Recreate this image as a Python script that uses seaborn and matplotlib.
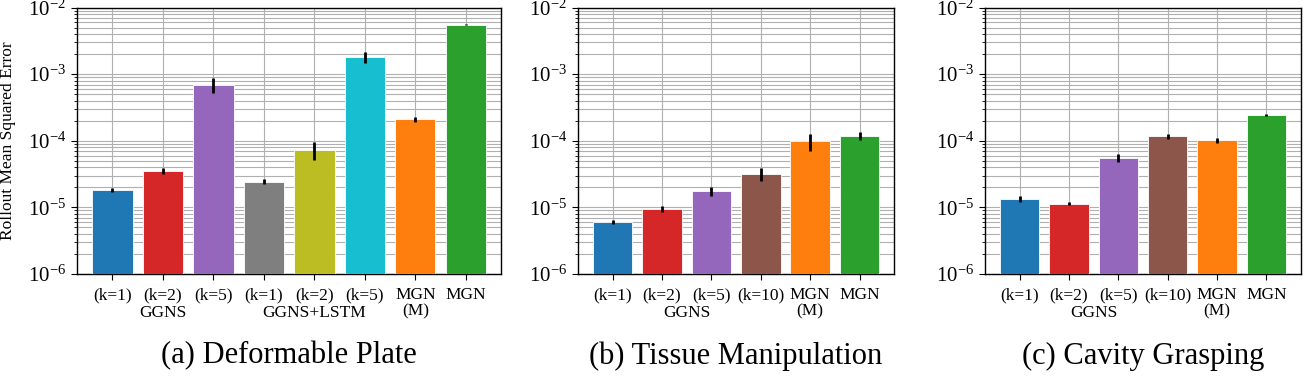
import numpy as np
import pandas as pd
import matplotlib
matplotlib.use("Agg")
import matplotlib.pyplot as plt
import matplotlib.transforms as mtransforms
import seaborn as sns

# ----------------------------------------------------------------------------------
# DATA (rollout MSE, mean and spread per model)
# ----------------------------------------------------------------------------------
plate_labels = ['(k=1)', '(k=2)', '(k=5)', '(k=1)', '(k=2)', '(k=5)', 'MGN\n(M)', 'MGN']
plate_mse = [1.83e-5, 3.54e-5, 7.0e-4, 2.44e-5, 7.3e-5, 1.83e-3, 2.12e-4, 5.55e-3]
plate_err = [0.15e-5, 0.35e-5, 1.7e-4, 0.21e-5, 2.2e-5, 0.34e-3, 0.18e-4, 1.5e-4]
plate_colors = ['#1f77b4', '#d62728', '#9467bd', '#7f7f7f', '#bcbd22', '#17becf', '#ff7f0e', '#2ca02c']
plate_groups = [('GGNS', 1.0), ('GGNS+LSTM', 4.0)]

tissue_labels = ['(k=1)', '(k=2)', '(k=5)', '(k=10)', 'MGN\n(M)', 'MGN']
tissue_mse = [6.05e-6, 9.5e-6, 1.75e-5, 3.19e-5, 0.99e-4, 1.2e-4]
tissue_err = [0.5e-6, 1.0e-6, 0.25e-5, 0.68e-5, 2.8e-5, 1.75e-5]

cavity_labels = ['(k=1)', '(k=2)', '(k=5)', '(k=10)', 'MGN\n(M)', 'MGN']
cavity_mse = [1.34e-5, 1.14e-5, 5.55e-5, 1.18e-4, 1.02e-4, 2.46e-4]
cavity_err = [0.12e-5, 0.05e-5, 0.7e-5, 0.1e-4, 0.9e-5, 0.1e-4]

short_colors = ['#1f77b4', '#d62728', '#9467bd', '#8c564b', '#ff7f0e', '#2ca02c']
short_groups = [('GGNS', 1.5)]

# ----------------------------------------------------------------------------------
# STYLE
# ----------------------------------------------------------------------------------
sns.set_style('ticks')
plt.rcParams['font.family'] = ['Liberation Serif', 'DejaVu Serif']
plt.rcParams['mathtext.fontset'] = 'cm'
plt.rcParams['font.size'] = 12.5
plt.rcParams['text.color'] = 'black'
plt.rcParams['axes.labelcolor'] = 'black'
plt.rcParams['axes.edgecolor'] = 'black'
plt.rcParams['xtick.color'] = 'black'
plt.rcParams['ytick.color'] = 'black'


def draw_panel(ax, labels, values, errors, colors, groups, title):
    df = pd.DataFrame({'name': [f'b{i}' for i in range(len(labels))], 'mse': values})
    ax.set_yscale('log')
    sns.barplot(data=df, x='name', y='mse', hue='name', palette=colors, saturation=1,
                errorbar=None, width=0.8, legend=False, ax=ax, zorder=3,
                edgecolor='white', linewidth=0.6)
    ax.errorbar(np.arange(len(values)), values, yerr=errors, fmt='none',
                ecolor='black', elinewidth=2, capsize=0, zorder=4)
    ax.set_ylim(1e-6, 1e-2)
    ax.set_xlim(-0.7, len(values) - 0.3)
    ax.set_xticks(np.arange(len(values)))
    ax.set_xticklabels(labels, fontsize=12.5, linespacing=1.05)
    ax.set_xlabel('')
    ax.set_ylabel('')
    ax.tick_params(axis='x', length=4.5, pad=5)
    ax.tick_params(axis='y', labelsize=15, length=4.5)
    ax.tick_params(axis='y', which='minor', length=2.5)
    ax.grid(True, which='major', color='#b0b0b0', lw=0.8, zorder=0)
    ax.grid(True, which='minor', axis='y', color='#b0b0b0', lw=0.8, zorder=0)
    ax.set_axisbelow(True)
    for s in ax.spines.values():
        s.set_visible(True)
        s.set_linewidth(1.0)
    trans = mtransforms.blended_transform_factory(ax.transData, ax.transAxes)
    for name, xpos in groups:
        ax.text(xpos, -0.118, name, transform=trans, ha='center', va='top', fontsize=12.5)
    pos = ax.get_position()
    ax.figure.text(pos.x0 + pos.width / 2, 0.063, title, ha='center', va='center', fontsize=22)


fig = plt.figure(figsize=(13.06, 3.80), dpi=100)
ax1 = fig.add_axes([0.059, 0.279, 0.3247, 0.701])
ax2 = fig.add_axes([0.4426, 0.279, 0.242, 0.701])
ax3 = fig.add_axes([0.7542, 0.279, 0.242, 0.701])

draw_panel(ax1, plate_labels, plate_mse, plate_err, plate_colors, plate_groups, '(a) Deformable Plate')
draw_panel(ax2, tissue_labels, tissue_mse, tissue_err, short_colors, short_groups, '(b) Tissue Manipulation')
draw_panel(ax3, cavity_labels, cavity_mse, cavity_err, short_colors, short_groups, '(c) Cavity Grasping')

ax1.set_ylabel('Rollout Mean Squared Error', fontsize=12.5)
ax1.yaxis.set_label_coords(-0.143, 0.5)

fig.savefig('out.png', dpi=100)
